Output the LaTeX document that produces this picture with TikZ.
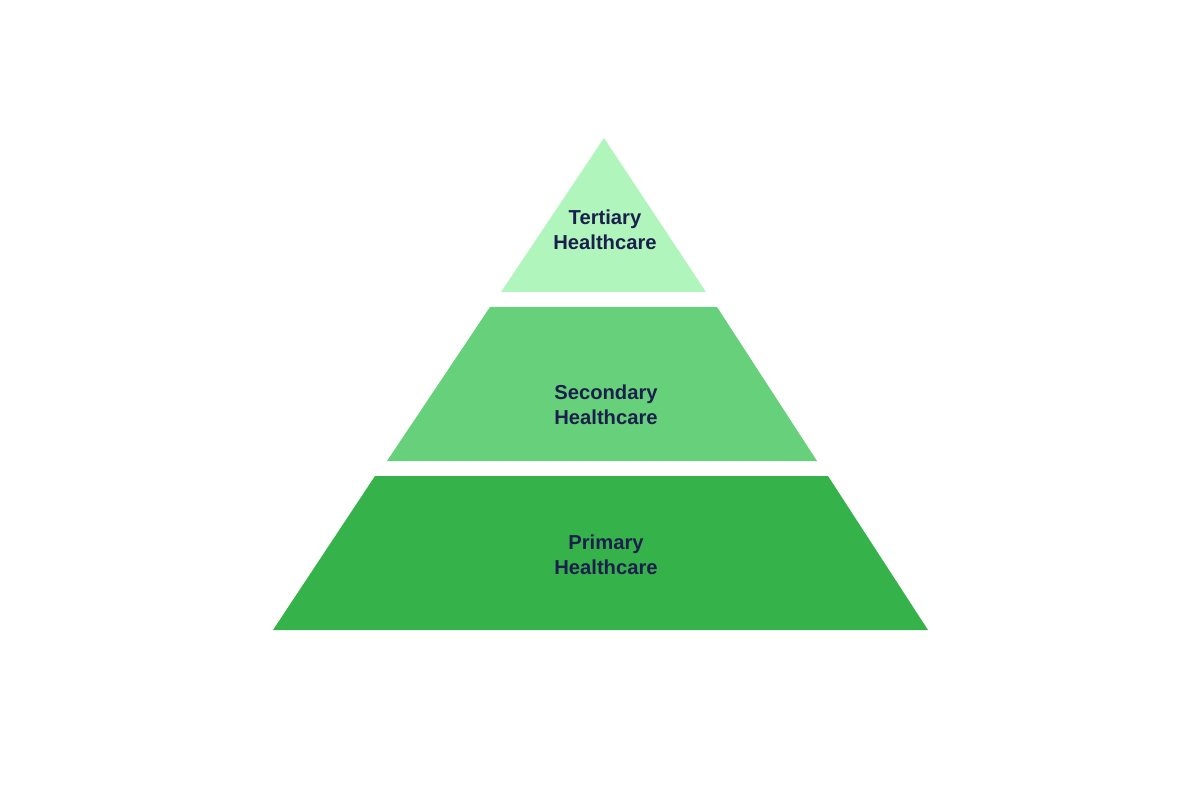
\documentclass[tikz,border=0pt]{standalone}
\usepackage{fontspec}
\setmainfont{Liberation Sans}
\definecolor{tertgreen}{RGB}{176,245,188}
\definecolor{secgreen}{RGB}{102,209,122}
\definecolor{primgreen}{RGB}{54,178,74}
\definecolor{navy}{RGB}{27,31,75}
\tikzset{level/.style={align=center,text=navy,font=\bfseries\fontsize{11.5}{14}\selectfont}}
\begin{document}
\begin{tikzpicture}[x=0.02cm,y=-0.02cm]
\useasboundingbox (0,0) rectangle (1200,800);
\path
  coordinate (apex) at (604,138)
  coordinate (t1) at (501,292)
  coordinate (t2) at (706,292)
  coordinate (s1) at (490,307)
  coordinate (s2) at (717,307)
  coordinate (s3) at (817,461)
  coordinate (s4) at (387,461)
  coordinate (p1) at (375,476)
  coordinate (p2) at (828,476)
  coordinate (p3) at (928,630)
  coordinate (p4) at (273,630)
  ;
\fill[tertgreen] (apex) -- (t2) -- (t1) -- cycle;
\fill[secgreen] (s1) -- (s2) -- (s3) -- (s4) -- cycle;
\fill[primgreen] (p1) -- (p2) -- (p3) -- (p4) -- cycle;
\node[level] (tert) at (605,230) {Tertiary\\Healthcare};
\node[level] (sec) at (606,405) {Secondary\\Healthcare};
\node[level] (prim) at (606,555) {Primary\\Healthcare};
\end{tikzpicture}
\end{document}
